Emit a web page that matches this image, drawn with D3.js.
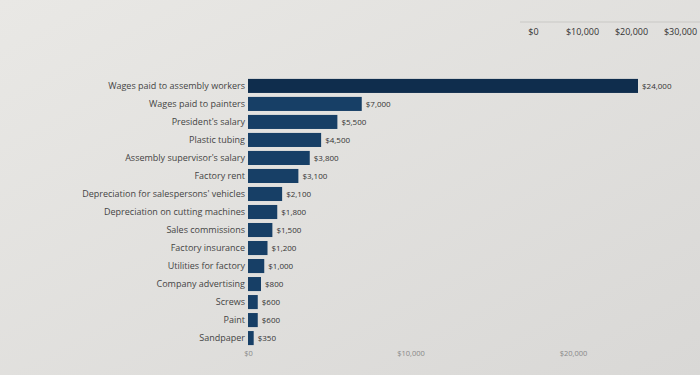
<!DOCTYPE html>
<html>
<head>
<meta charset="utf-8">
<script src="https://cdn.jsdelivr.net/npm/d3@7"></script>
<style>
body { margin: 0; background: #e4e3e0; }
svg { display: block; }
svg text { font-family: "Open Sans", sans-serif; }
</style>
</head>
<body>
<svg width="700" height="375"></svg>
<script>
var svg = d3.select('svg');

var costs = ['Wages paid to assembly workers', 'Wages paid to painters', "President's salary",
    'Plastic tubing', "Assembly supervisor's salary", 'Factory rent',
    "Depreciation for salespersons' vehicles", 'Depreciation on cutting machines',
    'Sales commissions', 'Factory insurance', 'Utilities for factory', 'Company advertising',
    'Screws', 'Paint', 'Sandpaper'];
var amounts = [24000, 7000, 5500, 4500, 3800, 3100, 2100, 1800, 1500, 1200, 1000, 800, 600, 600, 350];
var topTicks = [0, 10000, 20000, 30000];
var bottomTicks = [0, 10000, 20000];

var rows = costs.map(function(c, i){ return {name: c, value: amounts[i]}; });
var fmt = d3.format('$,');

// background wash like the photo
var grad = svg.append('defs').append('linearGradient').attr('id', 'bg')
    .attr('x1', 0).attr('x2', 1).attr('y1', 0).attr('y2', 1);
grad.append('stop').attr('offset', '0%').attr('stop-color', '#e9e8e5');
grad.append('stop').attr('offset', '100%').attr('stop-color', '#d9d8d6');
svg.append('rect').attr('width', 700).attr('height', 375).attr('fill', 'url(#bg)');

var x = d3.scaleLinear().domain([0, 24000]).range([248, 638]);
var y = d3.scaleBand().domain(costs).range([78, 346]).paddingInner(0.22).paddingOuter(0.05);

// small overview axis at the top
var xTop = d3.scaleLinear().domain([0, 30000]).range([533, 680]);
svg.append('line').attr('x1', 520).attr('x2', 700).attr('y1', 22).attr('y2', 22)
    .attr('stroke', '#c9c8c5');
svg.append('g').attr('transform', 'translate(0,38)')
    .call(d3.axisTop(xTop).tickValues(topTicks).tickFormat(fmt).tickSize(0))
    .call(function(g){ g.select('.domain').remove(); })
    .selectAll('text').attr('fill', '#333').attr('font-size', 9);

svg.selectAll('rect.bar')
    .data(rows).enter()
    .append('rect')
    .attr('class', 'bar')
    .attr('x', x(0))
    .attr('y', function(d){ return y(d.name); })
    .attr('width', function(d){ return x(d.value) - x(0); })
    .attr('height', y.bandwidth())
    .attr('fill', function(d, i){ return i === 0 ? '#0f2d4d' : '#173f66'; });

svg.selectAll('text.val')
    .data(rows).enter()
    .append('text')
    .attr('class', 'val')
    .attr('x', function(d){ return x(d.value) + 4; })
    .attr('y', function(d){ return y(d.name) + y.bandwidth() / 2; })
    .attr('dy', '0.35em')
    .attr('font-size', 8)
    .attr('fill', '#333')
    .text(function(d){ return fmt(d.value); });

svg.append('g').attr('transform', 'translate(' + (x(0) - 3) + ',0)')
    .call(d3.axisLeft(y).tickSize(0).tickPadding(0))
    .call(function(g){ g.select('.domain').remove(); })
    .selectAll('text').attr('fill', '#444').attr('font-size', 9);

svg.append('g').attr('transform', 'translate(0,348)')
    .call(d3.axisBottom(x).tickValues(bottomTicks).tickFormat(fmt).tickSize(0))
    .call(function(g){ g.select('.domain').remove(); })
    .selectAll('text').attr('fill', '#888').attr('font-size', 7.5);
</script>
</body>
</html>
